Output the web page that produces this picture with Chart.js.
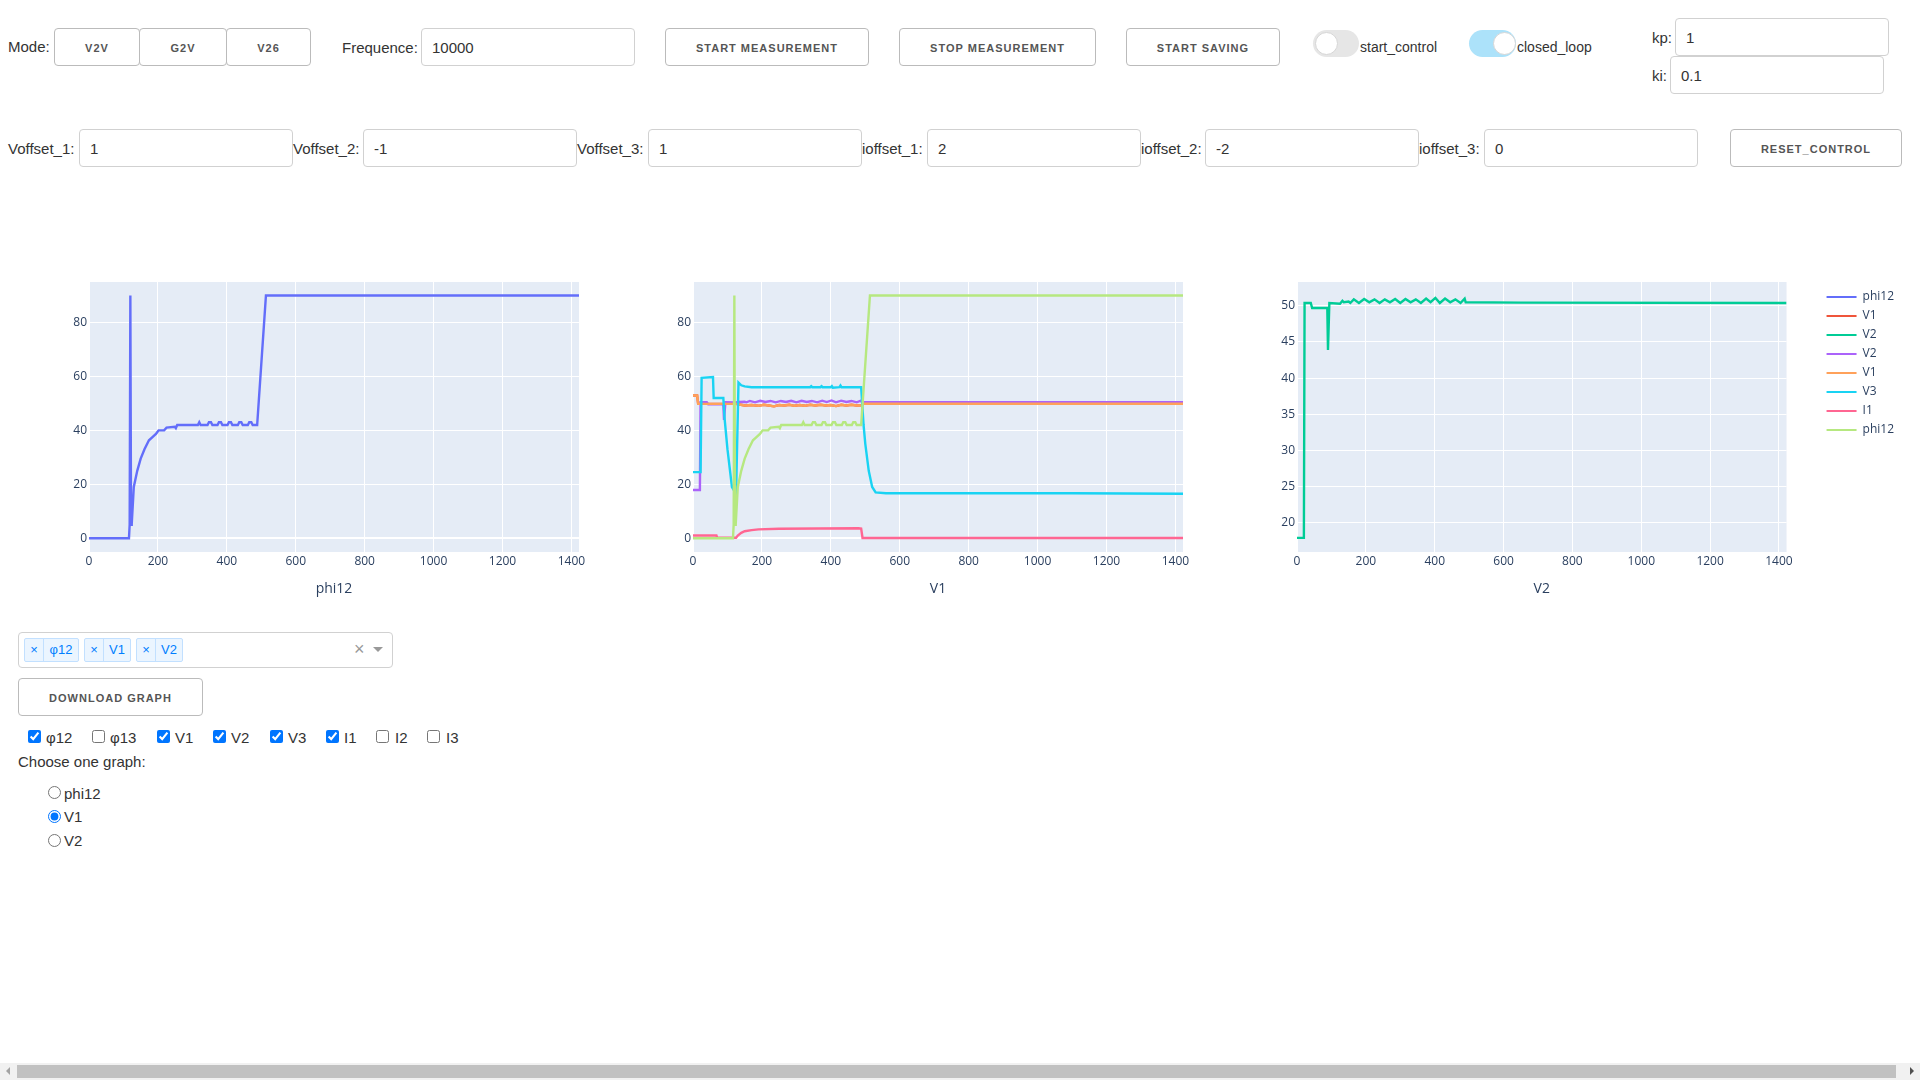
<!DOCTYPE html>
<html>
<head>
<meta charset="utf-8">
<title>Measurement dashboard</title>
<script src="https://cdn.jsdelivr.net/npm/chart.js@4/dist/chart.umd.min.js"></script>
<style>
    html, body { margin: 0; padding: 0; width: 1920px; height: 1080px; overflow: hidden; background: #fff; }
    body { position: relative; font: 15px "Liberation Sans", Arial, sans-serif; color: #333; }
    .lbl, .btn, .inp, .tog, .tag, canvas, .bar, input[type=checkbox], input[type=radio] { position: absolute; box-sizing: border-box; }
    .lbl { white-space: nowrap; line-height: 20px; height: 20px; }
    .btn { height: 38px; border: 1px solid #bbb; border-radius: 4px; color: #555; background: #fff; font-size: 11px; font-weight: 600;
           letter-spacing: 1px; text-transform: uppercase; text-align: center; line-height: 38px; white-space: nowrap; }
    .inp { height: 38px; border: 1px solid #d1d1d1; border-radius: 4px; line-height: 38px; padding-left: 10px; background: #fff; }
    .tog { top: 30px; height: 27px; border-radius: 14px; }
    .tog i { position: absolute; top: 2px; width: 23px; height: 23px; border-radius: 50%; background: #fff; border: 1px solid #d6d6d6; box-sizing: border-box; }
    .tag { top: 638px; height: 24px; background: #ebf5ff; border: 1px solid #c2e0ff; border-radius: 2px; color: #007eff; font-size: 13px; line-height: 22px; }
    .tag b { font-weight: 400; position: absolute; left: 0; top: 0; width: 19px; height: 22px; text-align: center; border-right: 1px solid #c2e0ff; box-sizing: border-box; }
    .tag span { position: absolute; left: 19px; right: 0; text-align: center; }
    input[type=checkbox], input[type=radio] { margin: 0; width: 13px; height: 13px; }
    .bar { background: #c1c1c1; }
</style>
</head>
<body>
    <div class="lbl" style="left:8px;top:37px">Mode:</div>
    <div class="btn" style="left:54px;top:28px;width:86px">V2V</div>
    <div class="btn" style="left:139px;top:28px;width:88px">G2V</div>
    <div class="btn" style="left:226px;top:28px;width:85px">V26</div>
    <div class="lbl" style="left:342px;top:38px">Frequence:</div>
    <div class="inp" style="left:421px;top:28px;width:214px">10000</div>
    <div class="btn" style="left:665px;top:28px;width:204px">Start measurement</div>
    <div class="btn" style="left:899px;top:28px;width:197px">Stop measurement</div>
    <div class="btn" style="left:1126px;top:28px;width:154px">Start saving</div>
    <div class="tog" style="left:1313px;width:46px;background:#e6e6e6"><i style="left:2px"></i></div>
    <div class="lbl" style="left:1360px;top:37px;font-size:14px">start_control</div>
    <div class="tog" style="left:1469px;width:47px;background:#ace2fa"><i style="right:0"></i></div>
    <div class="lbl" style="left:1517px;top:37px;font-size:14px">closed_loop</div>
    <div class="lbl" style="left:1652px;top:28px">kp:</div>
    <div class="inp" style="left:1675px;top:18px;width:214px">1</div>
    <div class="lbl" style="left:1652px;top:66px">ki:</div>
    <div class="inp" style="left:1670px;top:56px;width:214px">0.1</div>

    <div class="lbl" style="left:8px;top:139px">Voffset_1:</div>
    <div class="inp" style="left:79px;top:129px;width:214px">1</div>
    <div class="lbl" style="left:293px;top:139px">Voffset_2:</div>
    <div class="inp" style="left:363px;top:129px;width:214px">-1</div>
    <div class="lbl" style="left:577px;top:139px">Voffset_3:</div>
    <div class="inp" style="left:648px;top:129px;width:214px">1</div>
    <div class="lbl" style="left:862px;top:139px">ioffset_1:</div>
    <div class="inp" style="left:927px;top:129px;width:214px">2</div>
    <div class="lbl" style="left:1141px;top:139px">ioffset_2:</div>
    <div class="inp" style="left:1205px;top:129px;width:214px">-2</div>
    <div class="lbl" style="left:1419px;top:139px">ioffset_3:</div>
    <div class="inp" style="left:1484px;top:129px;width:214px">0</div>
    <div class="btn" style="left:1730px;top:129px;width:172px">Reset_control</div>

    <canvas id="chartPhi" width="542" height="325" style="left:48px;top:272px"></canvas>
    <canvas id="chartV1" width="542" height="325" style="left:652px;top:272px"></canvas>
    <canvas id="chartV2" width="648" height="325" style="left:1256px;top:272px"></canvas>

    <div class="inp" style="left:18px;top:632px;width:375px;height:36px"></div>
    <div class="tag" style="left:24px;width:55px"><b>×</b><span>φ12</span></div>
    <div class="tag" style="left:84px;width:47px"><b>×</b><span>V1</span></div>
    <div class="tag" style="left:136px;width:47px"><b>×</b><span>V2</span></div>
    <div class="lbl" style="left:354px;top:639px;color:#999;font-size:18px">×</div>
    <div style="position:absolute;left:373px;top:647px;border:5px solid transparent;border-top-color:#999;border-bottom:0"></div>
    <div class="btn" style="left:18px;top:678px;width:185px">Download graph</div>

    <input type="checkbox" checked style="left:28px;top:730px"><div class="lbl" style="left:46px;top:728px">φ12</div>
    <input type="checkbox" style="left:92px;top:730px"><div class="lbl" style="left:110px;top:728px">φ13</div>
    <input type="checkbox" checked style="left:157px;top:730px"><div class="lbl" style="left:175px;top:728px">V1</div>
    <input type="checkbox" checked style="left:213px;top:730px"><div class="lbl" style="left:231px;top:728px">V2</div>
    <input type="checkbox" checked style="left:270px;top:730px"><div class="lbl" style="left:288px;top:728px">V3</div>
    <input type="checkbox" checked style="left:326px;top:730px"><div class="lbl" style="left:344px;top:728px">I1</div>
    <input type="checkbox" style="left:376px;top:730px"><div class="lbl" style="left:395px;top:728px">I2</div>
    <input type="checkbox" style="left:427px;top:730px"><div class="lbl" style="left:446px;top:728px">I3</div>
    <div class="lbl" style="left:18px;top:752px">Choose one graph:</div>
    <input type="radio" name="g" style="left:48px;top:786px"><div class="lbl" style="left:64px;top:784px">phi12</div>
    <input type="radio" name="g" checked style="left:48px;top:810px"><div class="lbl" style="left:64px;top:807px">V1</div>
    <input type="radio" name="g" style="left:48px;top:834px"><div class="lbl" style="left:64px;top:831px">V2</div>

    <div class="bar" style="left:0;top:1063px;width:1920px;height:17px;background:#f1f1f1"></div>
    <div class="bar" style="left:17px;top:1065px;width:1879px;height:13px"></div>
    <div style="position:absolute;left:6px;top:1067px;border:4px solid transparent;border-right-color:#a3a3a3;border-left:0"></div>
    <div style="position:absolute;left:1910px;top:1067px;border:4px solid transparent;border-left-color:#505050;border-right:0"></div>

<script>
'use strict';

/* ── Data ──────────────────────────────────────────── */
const phiX = [0,116,118,120,122,124,130,140,150,161,174,185,195,202,218,225,249,252,256,316,320,324,344,348,354,358,373,377,383,387,402,406,412,416,432,436,442,446,461,465,471,475,488,513.5,1422];
const phiY = [0,0,5,90,5,5.2,19,25,29.5,33,36.3,37.6,38.8,40,40,41,41.3,40.8,42,42,43,42,42,43,43,42,42,43,43,42,42,43,43,42,42,43,43,42,42,43,43,42,42,90,90];

const v1X = [0,12,15,125,135,150,170,190,205,220,235,250,265,280,295,310,325,340,355,370,385,400,415,430,445,460,475,488,495,1422];
const v1Y = [52.9,52.9,49.8,49.8,49.6,49.2,49.4,49.1,49.5,49.2,48.9,49.4,49.2,49.5,49.1,49.4,49.1,49.5,49.2,49.5,49.2,49.4,49,49.5,49.2,49.5,49.2,49.3,49.9,49.85];

const v2X = [0,20,22,40,44,88,90,94,125,132,136,150,155,165,180,195,210,225,240,255,270,285,300,315,330,345,360,375,388,402,415,430,445,460,475,487,490,650,1422];
const v2Y = [17.9,17.9,50.4,50.4,49.7,49.7,43.9,50.4,50.3,50.7,50.5,50.6,50.4,50.9,50.4,50.95,50.5,50.9,50.4,50.9,50.5,50.95,50.4,50.95,50.5,50.9,50.4,51,50.5,51.1,50.4,51,50.5,50.9,50.4,51,50.5,50.45,50.4];

const v3X = [0,22,25,58,60,88,92,100,113,125,132,140,150,170,340,343,346,370,373,376,400,403,406,425,428,431,488,495,500,510,520,530,560,1100,1422];
const v3Y = [24.5,24.5,59.5,59.8,52,52,44,33,19,16.5,57.7,56.7,56.3,56,56,56.4,56,56,56.4,56,56,56.4,55.8,56,56.6,56,56,42,35,25,19,17,16.7,16.7,16.5];

const i1X = [0,68,70,125,130,140,150,170,190,250,480,488,492,1422];
const i1Y = [1,1,0.2,0.2,1,2,2.6,3,3.3,3.5,3.7,3.6,0.1,0.1];

const xTickValues = [0,200,400,600,800,1000,1200,1400];
const angleTickValues = [0,20,40,60,80];
const v2TickValues = [20,25,30,35,40,45,50];

const legendNames  = ['phi12','V1','V2','V2','V1','V3','I1','phi12'];
const legendColors = ['#636EFA','#EF553B','#00CC96','#AB63FA','#FFA15A','#19D3F3','#FF6692','#B6E880'];

const TICK_COLOR = '#2a3f5f';
const PLOT_BG = '#E5ECF6';
const FONT = "'Open Sans', sans-serif";

Chart.defaults.font.family = FONT;
Chart.defaults.animation = false;

function pairs(xs, ys) {
    return xs.map((x, i) => ({ x, y: ys[i] }));
}

function trace(xs, ys, color, order) {
    return {
        data: pairs(xs, ys),
        borderColor: color,
        backgroundColor: color,
        borderWidth: 2.4,
        pointRadius: 0,
        tension: 0,
        order: order,
    };
}

/* ── Plot background ───────────────────────────────── */
const plotBackground = {
    id: 'plotBackground',
    beforeDraw(chart) {
        const a = chart.chartArea;
        chart.ctx.save();
        chart.ctx.fillStyle = PLOT_BG;
        chart.ctx.fillRect(a.left, a.top, a.width, a.height);
        chart.ctx.restore();
    }
};

function fixedTicks(values) {
    return s => { s.ticks = values.map(value => ({ value })); };
}

function scaleSet(title, yMin, yMax, yTicks) {
    return {
        x: {
            type: 'linear', min: 0, max: 1422,
            grid: { color: '#fff', lineWidth: 1, drawTicks: false },
            border: { display: false },
            afterBuildTicks: fixedTicks(xTickValues),
            ticks: { autoSkip: false, maxRotation: 0, padding: 2, color: TICK_COLOR, font: { size: 12 }, callback: v => String(v) },
            title: { display: true, text: title, color: TICK_COLOR, font: { size: 14 }, padding: 0 },
            afterFit: s => { s.height = 45; s.paddingLeft = 0; s.paddingRight = 0; }
        },
        y: {
            min: yMin, max: yMax,
            grid: { color: '#fff', lineWidth: c => (c.tick && c.tick.value === 0 ? 2 : 1), drawTicks: false },
            border: { display: false },
            afterBuildTicks: fixedTicks(yTicks),
            ticks: { autoSkip: false, padding: 2, color: TICK_COLOR, font: { size: 12 }, callback: v => String(v) },
            afterFit: s => { s.width = 41; s.paddingTop = 0; s.paddingBottom = 0; }
        }
    };
}

function baseOptions(title, yMin, yMax, yTicks) {
    return {
        responsive: false,
        maintainAspectRatio: false,
        layout: { autoPadding: false, padding: { top: 10, right: 11 } },
        plugins: { legend: { display: false }, tooltip: { enabled: false } },
        scales: scaleSet(title, yMin, yMax, yTicks)
    };
}

/* ── phi12 ─────────────────────────────────────────── */
new Chart(document.getElementById('chartPhi'), {
    type: 'line',
    data: { datasets: [trace(phiX, phiY, legendColors[0], 1)] },
    options: baseOptions('phi12', -5.1, 95, angleTickValues),
    plugins: [plotBackground]
});

/* ── V1 (all the ticked signals) ───────────────────── */
new Chart(document.getElementById('chartV1'), {
    type: 'line',
    data: {
        datasets: [
            trace(v1X, v1Y, legendColors[1], 6),
            trace(v2X, v2Y, legendColors[3], 5),
            trace(v1X, v1Y, legendColors[4], 4),
            trace(v3X, v3Y, legendColors[5], 3),
            trace(i1X, i1Y, legendColors[6], 2),
            trace(phiX, phiY, legendColors[7], 1),
        ]
    },
    options: baseOptions('V1', -5.1, 95, angleTickValues),
    plugins: [plotBackground]
});

/* ── V2, carries the shared legend ─────────────────── */
const v2Options = baseOptions('V2', 15.95, 53.3, v2TickValues);
v2Options.layout.padding.right = 0;
v2Options.scales.legendGap = {
    axis: 'y', position: 'right', display: true,
    grid: { display: false }, border: { display: false }, ticks: { display: false },
    afterFit: s => { s.width = 33; }
};
v2Options.plugins.legend = {
    display: true, position: 'right', align: 'start',
    title: { display: true, text: '', font: { size: 2, lineHeight: 1 }, padding: 0 },
    labels: {
        boxWidth: 30, boxHeight: 2, padding: 7, color: TICK_COLOR, font: { size: 12 },
        generateLabels: () => legendNames.map((text, i) => ({
            text, fillStyle: legendColors[i], strokeStyle: legendColors[i], lineWidth: 0, fontColor: TICK_COLOR, datasetIndex: 0
        }))
    }
};
new Chart(document.getElementById('chartV2'), {
    type: 'line',
    data: { datasets: [trace(v2X, v2Y, legendColors[2], 1)] },
    options: v2Options,
    plugins: [plotBackground]
});
</script>
</body>
</html>
